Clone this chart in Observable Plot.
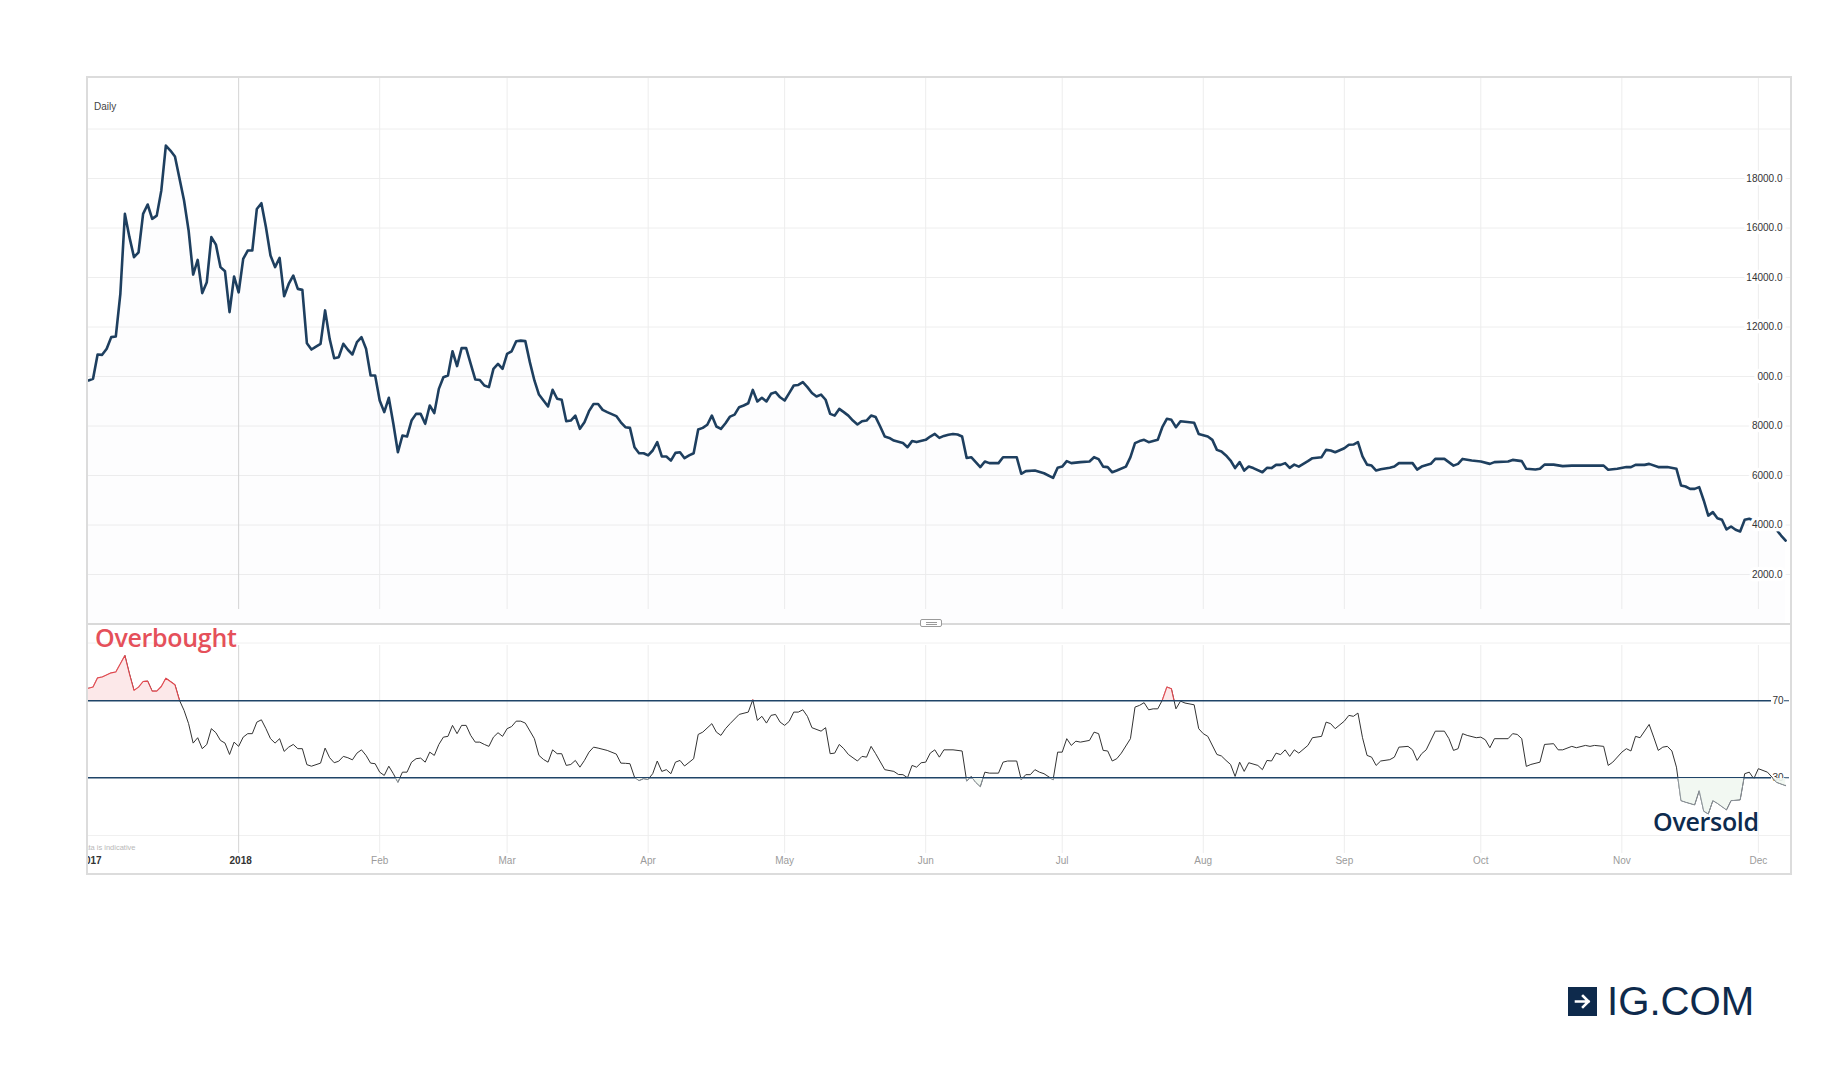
<!DOCTYPE html>
<html>
<head>
<meta charset="utf-8">
<script src="https://cdn.jsdelivr.net/npm/d3@7"></script>
<script src="https://cdn.jsdelivr.net/npm/@observablehq/plot@0.6"></script>
<style>
  body { margin: 0; background: #fff; }
  #wrap { position: relative; width: 1837px; height: 1077px; overflow: hidden; background: #fff; font-family: "Liberation Sans", Arial, sans-serif; }
  .abs { position: absolute; }
  .abs svg { display: block; }
</style>
</head>
<body>
<div id="wrap"></div>
<script>
// ---------- DATA ----------
const price = [
["2017-11-29",9840],["2017-11-30",9905],
["2017-12-01",10890],["2017-12-02",10875],["2017-12-03",11120],["2017-12-04",11590],["2017-12-05",11615],["2017-12-06",13340],["2017-12-07",16570],["2017-12-08",15630],["2017-12-09",14820],["2017-12-10",15020],["2017-12-11",16570],["2017-12-12",16950],["2017-12-13",16370],["2017-12-14",16500],["2017-12-15",17510],["2017-12-16",19330],["2017-12-17",19130],["2017-12-18",18890],["2017-12-20",17110],["2017-12-21",15900],["2017-12-22",14120],["2017-12-23",14710],["2017-12-24",13370],["2017-12-25",13810],["2017-12-26",15630],["2017-12-27",15330],["2017-12-28",14420],["2017-12-29",14250],["2017-12-30",12600],["2017-12-31",14040],
["2018-01-01",13400],["2018-01-02",14750],["2018-01-03",15090],["2018-01-04",15090],["2018-01-05",16770],["2018-01-06",17000],["2018-01-07",16030],["2018-01-08",14890],["2018-01-09",14420],["2018-01-10",14790],["2018-01-11",13240],["2018-01-12",13740],["2018-01-13",14080],["2018-01-14",13540],["2018-01-15",13500],["2018-01-16",11340],["2018-01-17",11090],["2018-01-18",11210],["2018-01-19",11320],["2018-01-20",12670],["2018-01-21",11520],["2018-01-22",10740],["2018-01-23",10780],["2018-01-24",11320],["2018-01-25",11080],["2018-01-26",10890],["2018-01-27",11390],["2018-01-28",11590],["2018-01-29",11120],["2018-01-30",10040],["2018-01-31",10040],
["2018-02-01",9030],["2018-02-02",8560],["2018-02-03",9140],["2018-02-04",8090],["2018-02-05",6940],["2018-02-06",7615],["2018-02-07",7575],["2018-02-08",8220],["2018-02-09",8490],["2018-02-10",8490],["2018-02-11",8090],["2018-02-12",8830],["2018-02-13",8520],["2018-02-14",9500],["2018-02-15",9970],["2018-02-16",10040],["2018-02-17",11020],["2018-02-18",10420],["2018-02-19",11145],["2018-02-20",11145],["2018-02-21",10510],["2018-02-22",9880],["2018-02-23",9860],["2018-02-24",9635],["2018-02-25",9570],["2018-02-26",10310],["2018-02-27",10510],["2018-02-28",10310],
["2018-03-01",10915],["2018-03-02",11020],["2018-03-03",11426],["2018-03-04",11450],["2018-03-05",11430],["2018-03-06",10580],["2018-03-07",9840],["2018-03-08",9270],["2018-03-09",9030],["2018-03-10",8790],["2018-03-11",9460],["2018-03-12",9100],["2018-03-13",9060],["2018-03-14",8190],["2018-03-15",8220],["2018-03-16",8420],["2018-03-17",7885],["2018-03-18",8150],["2018-03-19",8600],["2018-03-20",8890],["2018-03-21",8890],["2018-03-22",8650],["2018-03-23",8560],["2018-03-25",8400],["2018-03-26",8150],["2018-03-27",7950],["2018-03-28",7925],["2018-03-29",7140],["2018-03-30",6900],["2018-03-31",6900],
["2018-04-01",6810],["2018-04-02",7010],["2018-04-03",7350],["2018-04-04",6770],["2018-04-05",6770],["2018-04-06",6600],["2018-04-07",6915],["2018-04-08",6940],["2018-04-09",6700],["2018-04-10",6810],["2018-04-11",6900],["2018-04-12",7860],["2018-04-13",7925],["2018-04-14",8050],["2018-04-15",8420],["2018-04-16",7980],["2018-04-17",7885],["2018-04-18",8110],["2018-04-19",8380],["2018-04-20",8460],["2018-04-21",8760],["2018-04-22",8830],["2018-04-23",8920],["2018-04-24",9460],["2018-04-25",8990],["2018-04-26",9140],["2018-04-27",8990],["2018-04-28",9300],["2018-04-29",9370],["2018-04-30",9160],
["2018-05-01",9030],["2018-05-02",9330],["2018-05-03",9635],["2018-05-04",9660],["2018-05-05",9770],["2018-05-06",9570],["2018-05-07",9330],["2018-05-08",9190],["2018-05-09",9270],["2018-05-10",9060],["2018-05-11",8490],["2018-05-12",8420],["2018-05-13",8690],["2018-05-14",8560],["2018-05-15",8420],["2018-05-16",8220],["2018-05-17",8060],["2018-05-18",8190],["2018-05-19",8220],["2018-05-20",8420],["2018-05-21",8360],["2018-05-22",7980],["2018-05-23",7575],["2018-05-24",7520],["2018-05-25",7410],["2018-05-27",7310],["2018-05-28",7144],["2018-05-29",7390],["2018-05-30",7350],
["2018-06-01",7440],["2018-06-02",7575],["2018-06-03",7680],["2018-06-04",7520],["2018-06-05",7600],["2018-06-06",7650],["2018-06-07",7680],["2018-06-08",7655],["2018-06-09",7575],["2018-06-10",6710],["2018-06-11",6740],["2018-06-12",6540],["2018-06-13",6340],["2018-06-14",6565],["2018-06-15",6500],["2018-06-17",6500],["2018-06-18",6740],["2018-06-21",6740],["2018-06-22",6070],["2018-06-23",6175],["2018-06-25",6200],["2018-06-27",6090],["2018-06-29",5905],["2018-06-30",6310],
["2018-07-01",6360],["2018-07-02",6580],["2018-07-03",6500],["2018-07-05",6540],["2018-07-07",6565],["2018-07-08",6740],["2018-07-09",6660],["2018-07-10",6360],["2018-07-11",6340],["2018-07-12",6130],["2018-07-13",6200],["2018-07-15",6360],["2018-07-16",6740],["2018-07-17",7306],["2018-07-18",7390],["2018-07-19",7440],["2018-07-20",7346],["2018-07-22",7440],["2018-07-23",7950],["2018-07-24",8290],["2018-07-25",8250],["2018-07-26",7950],["2018-07-27",8190],["2018-07-29",8150],["2018-07-30",8130],["2018-07-31",7680],
["2018-08-02",7575],["2018-08-03",7440],["2018-08-04",7036],["2018-08-05",6970],["2018-08-06",6810],["2018-08-07",6605],["2018-08-08",6300],["2018-08-09",6540],["2018-08-10",6200],["2018-08-11",6360],["2018-08-12",6300],["2018-08-14",6130],["2018-08-15",6310],["2018-08-16",6300],["2018-08-17",6430],["2018-08-18",6430],["2018-08-19",6500],["2018-08-20",6310],["2018-08-21",6440],["2018-08-22",6360],["2018-08-23",6470],["2018-08-24",6580],["2018-08-25",6700],["2018-08-27",6740],["2018-08-28",7036],["2018-08-29",7010],["2018-08-30",6940],
["2018-09-01",7100],["2018-09-02",7240],["2018-09-03",7250],["2018-09-04",7346],["2018-09-05",6770],["2018-09-06",6440],["2018-09-07",6400],["2018-09-08",6200],["2018-09-09",6250],["2018-09-11",6310],["2018-09-12",6360],["2018-09-13",6500],["2018-09-16",6500],["2018-09-17",6240],["2018-09-18",6360],["2018-09-20",6470],["2018-09-21",6670],["2018-09-23",6670],["2018-09-25",6400],["2018-09-26",6470],["2018-09-27",6670],["2018-09-29",6605],
["2018-10-01",6565],["2018-10-03",6470],["2018-10-04",6540],["2018-10-07",6565],["2018-10-08",6630],["2018-10-10",6580],["2018-10-11",6270],["2018-10-13",6240],["2018-10-14",6270],["2018-10-15",6440],["2018-10-17",6440],["2018-10-19",6380],["2018-10-21",6400],["2018-10-24",6400],["2018-10-28",6400],["2018-10-29",6230],["2018-10-31",6270],
["2018-11-02",6340],["2018-11-03",6340],["2018-11-04",6430],["2018-11-06",6430],["2018-11-07",6470],["2018-11-09",6340],["2018-11-11",6340],["2018-11-13",6270],["2018-11-14",5600],["2018-11-15",5555],["2018-11-16",5460],["2018-11-17",5460],["2018-11-18",5530],["2018-11-19",4990],["2018-11-20",4380],["2018-11-21",4520],["2018-11-22",4275],["2018-11-23",4210],["2018-11-24",3820],["2018-11-25",3940],["2018-11-26",3805],["2018-11-27",3740],["2018-11-28",4210],["2018-11-29",4250],
["2018-12-05",3805],["2018-12-06",3575],["2018-12-07",3373]
];

const rsi = [
["2017-11-29",76.5],["2017-11-30",77.1],["2017-12-01",81.9],["2017-12-02",82.3],["2017-12-04",84.5],["2017-12-05",84.9],["2017-12-07",93.5],["2017-12-08",84.0],["2017-12-09",75.4],["2017-12-10",77.1],["2017-12-11",80.0],["2017-12-12",80.2],["2017-12-13",75.0],["2017-12-14",75.0],["2017-12-15",77.4],["2017-12-16",81.7],["2017-12-17",80.0],["2017-12-18",78.3],["2017-12-19",70.2],["2017-12-20",65.0],["2017-12-21",58.1],["2017-12-22",48.0],["2017-12-23",50.8],["2017-12-24",45.1],["2017-12-25",47.3],["2017-12-26",55.5],["2017-12-27",53.4],["2017-12-28",49.4],["2017-12-29",48.0],["2017-12-30",42.1],["2017-12-31",48.5],
["2018-01-01",46.3],["2018-01-02",51.1],["2018-01-03",52.9],["2018-01-04",52.9],["2018-01-05",58.9],["2018-01-06",60.1],["2018-01-07",55.5],["2018-01-08",50.3],["2018-01-09",48.0],["2018-01-10",50.3],["2018-01-11",43.7],["2018-01-12",45.9],["2018-01-13",47.3],["2018-01-14",45.1],["2018-01-15",45.1],["2018-01-16",36.8],["2018-01-17",36.0],["2018-01-18",36.8],["2018-01-19",37.6],["2018-01-20",45.4],["2018-01-21",40.4],["2018-01-22",37.8],["2018-01-23",38.6],["2018-01-24",41.1],["2018-01-25",40.4],["2018-01-26",39.3],["2018-01-27",42.8],["2018-01-28",44.5],["2018-01-29",41.6],["2018-01-30",37.6],["2018-01-31",37.3],
["2018-02-01",32.9],["2018-02-02",31.2],["2018-02-03",36.0],["2018-02-04",32.1],["2018-02-05",27.7],["2018-02-06",32.9],["2018-02-07",32.9],["2018-02-08",38.1],["2018-02-09",39.9],["2018-02-10",40.2],["2018-02-11",38.1],["2018-02-12",43.3],["2018-02-13",41.6],["2018-02-14",47.3],["2018-02-15",51.1],["2018-02-16",51.5],["2018-02-17",57.2],["2018-02-18",52.9],["2018-02-19",57.2],["2018-02-20",57.2],["2018-02-21",52.0],["2018-02-22",48.5],["2018-02-23",48.5],["2018-02-24",47.3],["2018-02-25",46.3],["2018-02-26",51.1],["2018-02-27",53.4],["2018-02-28",51.5],
["2018-03-01",55.5],["2018-03-02",56.6],["2018-03-03",59.4],["2018-03-04",59.4],["2018-03-05",58.4],["2018-03-07",50.3],["2018-03-08",41.6],["2018-03-09",39.5],["2018-03-10",38.1],["2018-03-11",44.5],["2018-03-12",42.5],["2018-03-13",42.5],["2018-03-14",36.4],["2018-03-15",36.9],["2018-03-16",39.0],["2018-03-17",35.5],["2018-03-18",39.0],["2018-03-19",43.3],["2018-03-20",45.9],["2018-03-21",45.4],["2018-03-23",44.2],["2018-03-25",42.3],["2018-03-26",37.6],["2018-03-27",37.5],["2018-03-28",37.3],["2018-03-29",30.3],["2018-03-30",28.6],["2018-03-31",29.6],
["2018-04-01",29.2],["2018-04-02",32.1],["2018-04-03",38.7],["2018-04-04",33.3],["2018-04-05",34.2],["2018-04-06",32.1],["2018-04-07",38.1],["2018-04-08",39.0],["2018-04-09",36.1],["2018-04-11",39.9],["2018-04-12",52.5],["2018-04-13",53.7],["2018-04-15",58.1],["2018-04-16",53.7],["2018-04-17",52.0],["2018-04-18",55.5],["2018-04-19",58.1],["2018-04-21",62.9],["2018-04-23",64.1],["2018-04-24",70.5],["2018-04-25",59.8],["2018-04-26",61.9],["2018-04-27",58.4],["2018-04-28",62.4],["2018-04-29",62.9],["2018-04-30",58.9],
["2018-05-01",57.2],["2018-05-02",59.3],["2018-05-03",64.1],["2018-05-04",64.1],["2018-05-05",65.3],["2018-05-06",61.9],["2018-05-07",56.0],["2018-05-09",54.2],["2018-05-10",56.0],["2018-05-11",42.5],["2018-05-12",42.8],["2018-05-13",47.3],["2018-05-14",45.1],["2018-05-15",42.1],["2018-05-17",38.7],["2018-05-18",41.1],["2018-05-19",40.7],["2018-05-20",46.3],["2018-05-21",42.5],["2018-05-23",34.2],["2018-05-25",33.3],["2018-05-26",31.7],["2018-05-27",31.6],["2018-05-28",30.0],["2018-05-29",36.4],["2018-05-30",35.5],["2018-05-31",37.8],
["2018-06-01",38.1],["2018-06-02",42.8],["2018-06-03",44.5],["2018-06-04",40.7],["2018-06-05",44.5],["2018-06-07",44.5],["2018-06-09",43.9],["2018-06-10",28.3],["2018-06-11",30.7],["2018-06-12",27.7],["2018-06-13",25.5],["2018-06-14",32.9],["2018-06-15",32.4],["2018-06-17",32.4],["2018-06-18",38.1],["2018-06-19",38.7],["2018-06-21",38.7],["2018-06-22",29.0],["2018-06-23",31.6],["2018-06-24",31.6],["2018-06-25",34.2],["2018-06-26",32.9],["2018-06-27",32.1],["2018-06-29",29.0],["2018-06-30",43.3],
["2018-07-01",43.3],["2018-07-02",50.3],["2018-07-03",46.8],["2018-07-04",49.0],["2018-07-05",48.5],["2018-07-07",49.4],["2018-07-08",53.7],["2018-07-09",52.9],["2018-07-10",44.2],["2018-07-11",43.9],["2018-07-12",38.7],["2018-07-13",39.9],["2018-07-14",42.8],["2018-07-16",50.3],["2018-07-17",66.7],["2018-07-18",67.6],["2018-07-19",69.0],["2018-07-20",65.3],["2018-07-21",65.8],["2018-07-22",65.8],["2018-07-23",70.3],["2018-07-24",77.1],["2018-07-25",76.2],["2018-07-26",65.8],["2018-07-27",69.8],["2018-07-28",68.8],["2018-07-30",67.9],["2018-07-31",55.5],
["2018-08-01",52.9],["2018-08-02",51.5],["2018-08-04",42.1],["2018-08-05",41.3],["2018-08-06",39.0],["2018-08-07",36.9],["2018-08-08",30.7],["2018-08-09",38.1],["2018-08-10",33.3],["2018-08-11",37.8],["2018-08-13",36.4],["2018-08-14",34.2],["2018-08-15",39.0],["2018-08-16",38.7],["2018-08-17",42.8],["2018-08-18",42.0],["2018-08-19",44.5],["2018-08-20",41.1],["2018-08-21",44.5],["2018-08-22",42.8],["2018-08-24",46.8],["2018-08-25",50.8],["2018-08-27",51.5],["2018-08-28",58.9],["2018-08-29",58.1],["2018-08-30",55.5],
["2018-09-01",59.4],["2018-09-02",62.4],["2018-09-03",61.9],["2018-09-04",63.6],["2018-09-05",50.8],["2018-09-06",41.6],["2018-09-07",40.7],["2018-09-08",36.4],["2018-09-09",38.7],["2018-09-11",39.4],["2018-09-12",40.7],["2018-09-13",45.9],["2018-09-15",46.3],["2018-09-16",44.5],["2018-09-17",39.0],["2018-09-18",42.5],["2018-09-19",44.5],["2018-09-21",54.2],["2018-09-23",54.2],["2018-09-24",50.3],["2018-09-25",44.2],["2018-09-26",45.1],["2018-09-27",52.9],["2018-09-28",52.0],["2018-09-30",50.8],
["2018-10-01",51.1],["2018-10-02",49.7],["2018-10-03",45.6],["2018-10-04",50.3],["2018-10-07",50.3],["2018-10-08",52.9],["2018-10-09",52.5],["2018-10-10",50.3],["2018-10-11",35.9],["2018-10-12",36.9],["2018-10-14",38.1],["2018-10-15",47.3],["2018-10-17",47.7],["2018-10-18",44.5],["2018-10-19",44.5],["2018-10-21",46.3],["2018-10-22",45.6],["2018-10-24",46.8],["2018-10-25",46.3],["2018-10-26",46.8],["2018-10-28",46.3],["2018-10-29",36.4],["2018-10-30",38.1],
["2018-11-01",43.3],["2018-11-02",45.1],["2018-11-03",43.9],["2018-11-04",51.5],["2018-11-05",50.8],["2018-11-07",57.7],["2018-11-08",51.1],["2018-11-09",44.2],["2018-11-10",45.9],["2018-11-11",46.3],["2018-11-12",43.9],["2018-11-13",35.5],["2018-11-14",18.2],["2018-11-15",17.4],["2018-11-17",16.0],["2018-11-18",23.4],["2018-11-19",12.7],["2018-11-20",11.3],["2018-11-21",18.2],["2018-11-22",16.8],["2018-11-24",13.4],["2018-11-25",18.2],["2018-11-27",18.6],["2018-11-28",32.1],["2018-11-29",32.9],["2018-11-30",29.5],
["2018-12-01",34.7],["2018-12-03",32.9],["2018-12-04",30.3],["2018-12-05",27.7],["2018-12-07",26.0]
];

const priceTickValues = [18000, 16000, 14000, 12000, 10000, 8000, 6000, 4000, 2000];
const priceTickLabels = ["18000.0", "16000.0", "14000.0", "12000.0", "000.0", "8000.0", "6000.0", "4000.0", "2000.0"];
const priceGridValues = [2000, 4000, 6000, 8000, 10000, 12000, 14000, 16000, 18000, 20000];
const monthTickDates = ["2018-02-01","2018-03-01","2018-04-01","2018-05-01","2018-06-01","2018-07-01","2018-08-01","2018-09-01","2018-10-01","2018-11-01","2018-12-01"];
const monthTickLabels = ["Feb","Mar","Apr","May","Jun","Jul","Aug","Sep","Oct","Nov","Dec"];
const yearTickDates = ["2017-11-29","2018-01-01"];
const yearTickLabels = ["2017","2018"];
const rsiLevels = [70, 30];
const rsiGrid = [0, 100];
const xDomain = ["2017-11-29", "2018-12-08"];

// ---------- BUILD ----------
const priceData = price.map(([d, v]) => ({date: new Date(d), v}));
const rsiData = rsi.map(([d, r]) => ({date: new Date(d), r}));
const priceTicks = priceTickValues.map((v, i) => ({v, label: priceTickLabels[i]}));
const monthTicks = monthTickDates.map((d, i) => ({date: new Date(d), label: monthTickLabels[i]}));
const yearTicks = yearTickDates.map((d, i) => ({date: new Date(d), label: yearTickLabels[i]}));
const jan1 = [new Date("2018-01-01")];

const W = 1702;
const xOpt = {type: "utc", domain: xDomain.map(d => new Date(d)), range: [0, 1701.7], axis: null};
const baseStyle = {background: "transparent", overflow: "hidden", fontFamily: "'Liberation Sans', Arial, sans-serif", fontSize: "10px"};

const wrap = document.getElementById("wrap");
function place(node, left, top, z) {
  const d = document.createElement("div");
  d.className = "abs";
  d.style.left = left + "px"; d.style.top = top + "px";
  if (z != null) d.style.zIndex = z;
  d.appendChild(node);
  wrap.appendChild(d);
  return d;
}
function html(str, left, top, css) {
  const d = document.createElement("div");
  d.className = "abs";
  d.style.left = left + "px"; d.style.top = top + "px";
  d.style.cssText += css;
  d.innerHTML = str;
  wrap.appendChild(d);
  return d;
}

// frame
html("", 86, 76, "width:1706px;height:799px;box-sizing:border-box;border:2px solid #dcdcdc;");

// price panel
const pricePlot = Plot.plot({
  width: W, height: 547, margin: 0,
  x: xOpt,
  y: {domain: [0, 22000], range: [545.5, 1], axis: null},
  style: baseStyle,
  marks: [
    Plot.ruleY(priceGridValues, {stroke: "#eeeeee"}),
    Plot.ruleX(monthTicks, {x: "date", stroke: "#ededed", insetBottom: 16}),
    Plot.ruleX(jan1, {stroke: "#d4d4d4", insetBottom: 16}),
    Plot.areaY(priceData, {x: "date", y: "v", fill: "#1e3f5e", fillOpacity: 0.008}),
    Plot.line(priceData, {x: "date", y: "v", stroke: "#1e3f5f", strokeWidth: 2.6, strokeLinejoin: "round", strokeLinecap: "round"}),
    Plot.text(priceTicks, {y: "v", text: "label", frameAnchor: "right", textAnchor: "end", dx: -8, fill: "#333", stroke: "white", strokeWidth: 7, fontSize: 10}),
    Plot.ruleY([0], {stroke: "#b4b4b4", strokeWidth: 1.2})
  ]
});
place(pricePlot, 88, 78);

// RSI panel
const rsiPlot = Plot.plot({
  width: W, height: 250, margin: 0,
  x: xOpt,
  y: {domain: [0, 100], range: [212, 19.5], axis: null},
  style: baseStyle,
  marks: [
    Plot.ruleY(rsiGrid, {stroke: "#f0f0f0"}),
    Plot.ruleX(monthTicks, {x: "date", stroke: "#ededed", insetTop: 22, insetBottom: 20}),
    Plot.ruleX(jan1, {stroke: "#d4d4d4", insetTop: 22, insetBottom: 20}),
    Plot.line(rsiData, {x: "date", y: "r", stroke: "#333", strokeWidth: 1}),
    Plot.ruleY(rsiLevels, {stroke: "#1f4468", strokeWidth: 1.3, insetRight: 19}),
    Plot.ruleY(rsiLevels, {stroke: "#1f4468", strokeWidth: 1, insetLeft: 1696, insetRight: 1}),
    Plot.text(rsiLevels, {y: d => d, text: d => String(d), frameAnchor: "right", textAnchor: "end", dx: -7, fill: "#333", fontSize: 10}),
    Plot.text(monthTicks, {x: "date", text: "label", frameAnchor: "bottom", dy: -10, fill: "#9b9b9b", fontSize: 10}),
    Plot.text(yearTicks, {x: "date", text: "label", frameAnchor: "bottom", dy: -10, dx: 2, fill: "#333", fontWeight: "bold", fontSize: 10}),
    Plot.text(["Data is indicative"], {frameAnchor: "bottom-left", textAnchor: "end", dx: 47, dy: -24, fill: "#b8b8b8", fontSize: 7.5})
  ]
});
place(rsiPlot, 88, 623);

// overbought overlay (clipped above the 70 line)
const obPlot = Plot.plot({
  width: W, height: 76.75, margin: 0,
  x: xOpt,
  y: {domain: [0, 100], range: [212, 19.5], axis: null},
  style: baseStyle,
  marks: [
    Plot.areaY(rsiData, {x: "date", y1: 70, y2: "r", fill: "#fce6e7", fillOpacity: 0.9}),
    Plot.line(rsiData, {x: "date", y: "r", stroke: "#e4464d", strokeWidth: 1.1})
  ]
});
place(obPlot, 88, 623);

// oversold overlay (clipped below the 30 line)
const osPlot = Plot.plot({
  width: W, height: 95.25, margin: 0,
  x: xOpt,
  y: {domain: [0, 100], range: [57.25, -135.25], axis: null},
  style: baseStyle,
  marks: [
    Plot.areaY(rsiData, {x: "date", y1: 30, y2: "r", fill: "#f1f7f1", fillOpacity: 0.9}),
    Plot.line(rsiData, {x: "date", y: "r", stroke: "#8c949b", strokeWidth: 1})
  ]
});
place(osPlot, 88, 777.75);

// handle on separator
html('<div style="position:absolute;left:5px;top:2px;width:11px;border-top:1px solid #999;"></div><div style="position:absolute;left:5px;top:4px;width:11px;border-top:1px solid #999;"></div>',
  920, 619, "width:22px;height:8px;box-sizing:border-box;border:1px solid #9a9a9a;border-radius:2px;background:#fff;");

// labels
html("Daily", 94, 101.5, "font:10px 'Liberation Sans',Arial,sans-serif;line-height:1;color:#444;");
html("Overbought", 95, 624.8, "font:600 25px 'Open Sans',sans-serif;line-height:1;color:#e5505a;white-space:nowrap;letter-spacing:-0.3px;");
html("Oversold", 1653, 808.8, "font:600 25px 'Open Sans',sans-serif;line-height:1;color:#0d2b4e;white-space:nowrap;letter-spacing:-0.3px;");

// logo
html('<svg width="29" height="29" viewBox="0 0 29 29"><rect width="29" height="29" fill="#0e2a4c"/><path d="M8 14.5 H20.5 M15 9 L20.5 14.5 L15 20" stroke="#fff" stroke-width="2.6" fill="none" stroke-linecap="square"/></svg>',
  1568, 987, "width:29px;height:29px;");
html("IG.COM", 1607, 981.8, "font:40.2px 'Liberation Sans',Arial,sans-serif;line-height:1;color:#0e2a4c;white-space:nowrap;");
</script>
</body>
</html>
